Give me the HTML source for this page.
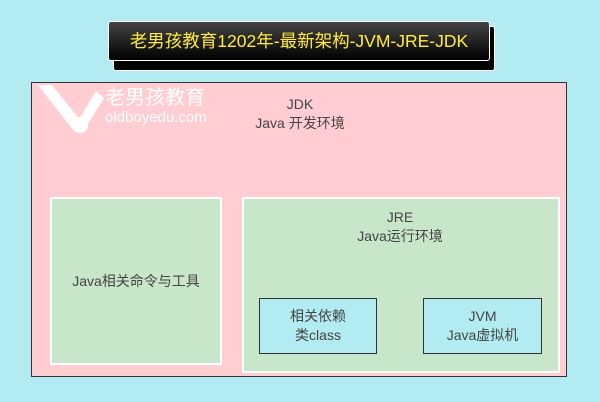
<!DOCTYPE html>
<html><head><meta charset="utf-8"><style>
body{margin:0;width:600px;height:402px;background:#b2ebf2;position:relative;overflow:hidden;font-family:"Liberation Sans","Noto Sans CJK SC",sans-serif;}
.a{position:absolute;box-sizing:border-box;}
.t{position:absolute;text-align:center;color:#444;font-size:14px;line-height:19px;}
</style></head><body>
<div class="a" style="left:113px;top:26px;width:382px;height:45px;background:#000;border:1px solid #fff;border-radius:3px"></div>
<div class="a" style="left:108px;top:21px;width:382px;height:40px;background:linear-gradient(#444,#000);border:1px solid #fff;border-radius:3px;color:#ffeb3b;font-size:17.5px;line-height:38px;text-align:center">老男孩教育1202年-最新架构-JVM-JRE-JDK</div>

<div class="a" style="left:31px;top:82px;width:536px;height:295px;background:#ffcdd2;border:1px solid #333"></div>
<svg class="a" style="left:38px;top:85px" width="70" height="50" viewBox="0 0 70 50">
<polygon points="0,0 14,0 46,40 36,46" fill="#fff"/>
<polygon points="58,6 66,13 48,42 40,36" fill="#fff"/>
<circle cx="42" cy="40" r="8" fill="#fff"/>
</svg>
<div class="t" style="left:105px;top:86px;color:#fff;font-size:20px;line-height:24px;text-align:left">老男孩教育</div>
<div class="t" style="left:105px;top:109px;color:#fff;font-size:15px;line-height:18px;text-align:left">oldboyedu.com</div>
<div class="t" style="left:200px;top:95px;width:200px">JDK<br>Java 开发环境</div>

<div class="a" style="left:50px;top:197px;width:172px;height:168px;background:#c8e6c9;border:2px solid #fff"></div>
<div class="t" style="left:50px;top:272px;width:172px">Java相关命令与工具</div>

<div class="a" style="left:242px;top:197px;width:318px;height:176px;background:#c8e6c9;border:2px solid #fff"></div>
<div class="t" style="left:300px;top:208px;width:200px">JRE<br>Java运行环境</div>

<div class="a" style="left:259px;top:298px;width:118px;height:56px;background:#b2ebf2;border:1px solid #333"></div>
<div class="t" style="left:259px;top:307px;width:118px">相关依赖<br>类class</div>
<div class="a" style="left:423px;top:298px;width:119px;height:56px;background:#b2ebf2;border:1px solid #333"></div>
<div class="t" style="left:423px;top:307px;width:119px">JVM<br>Java虚拟机</div>
</body></html>
